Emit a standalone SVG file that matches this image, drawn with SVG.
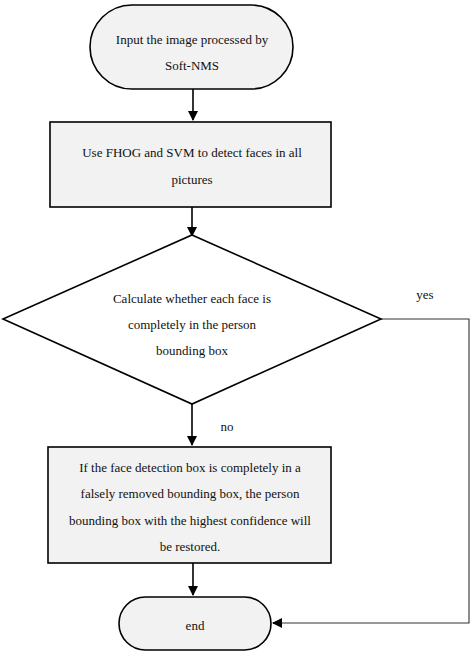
<svg xmlns="http://www.w3.org/2000/svg" width="474" height="654" viewBox="0 0 474 654">
<style>
.box{fill:#f2f2f2;stroke:#000;stroke-width:1.6}
.t{font-family:"Liberation Serif","DejaVu Serif",serif;font-size:13px;fill:#111;text-anchor:middle}
.c{stroke:#000;stroke-width:1.6;fill:none}
.y{stroke:#333;stroke-width:1.1;fill:none}
</style>
<defs>
<marker id="ah" markerWidth="10" markerHeight="10" refX="9" refY="5" orient="auto" markerUnits="userSpaceOnUse">
<path d="M0,0 L10,5 L0,10 z" fill="#000"/>
</marker>
</defs>
<rect width="474" height="654" fill="#fff"/>
<g id="connectors">
<line class="c" x1="193" y1="89" x2="193" y2="120" marker-end="url(#ah)"/>
<line class="c" x1="192" y1="207" x2="192" y2="236" marker-end="url(#ah)"/>
<line class="c" x1="192" y1="404" x2="192" y2="445" marker-end="url(#ah)"/>
<line class="c" x1="193" y1="563" x2="193" y2="595" marker-end="url(#ah)"/>
<path class="y" d="M381,319 H469 V623 H282"/>
<line class="c" x1="282" y1="623" x2="273" y2="623" marker-end="url(#ah)"/>
<text class="t" x="425" y="299">yes</text>
<text class="t" x="227" y="431">no</text>
</g>
<g id="start">
<rect class="box" x="90" y="5" width="203" height="84" rx="42"/>
<text class="t" x="192" y="44">Input the image processed by</text>
<text class="t" x="192" y="70">Soft-NMS</text>
</g>
<g id="detect">
<rect class="box" x="50" y="122" width="281" height="85"/>
<text class="t" x="192" y="157">Use FHOG and SVM to detect faces in all</text>
<text class="t" x="192" y="184">pictures</text>
</g>
<g id="decision">
<polygon points="192,235 381,319 192,404 3,319" fill="#fff" stroke="#000" stroke-width="1.6"/>
<text class="t" x="192" y="303">Calculate whether each face is</text>
<text class="t" x="192" y="329">completely in the person</text>
<text class="t" x="192" y="355">bounding box</text>
</g>
<g id="restore">
<rect class="box" x="48" y="447" width="283" height="116"/>
<text class="t" x="190" y="472">If the face detection box is completely in a</text>
<text class="t" x="190" y="498">falsely removed bounding box, the person</text>
<text class="t" x="190" y="525">bounding box with the highest confidence will</text>
<text class="t" x="190" y="551">be restored.</text>
</g>
<g id="end">
<rect class="box" x="119" y="597" width="152" height="53" rx="26.5"/>
<text class="t" x="195" y="630">end</text>
</g>
</svg>
